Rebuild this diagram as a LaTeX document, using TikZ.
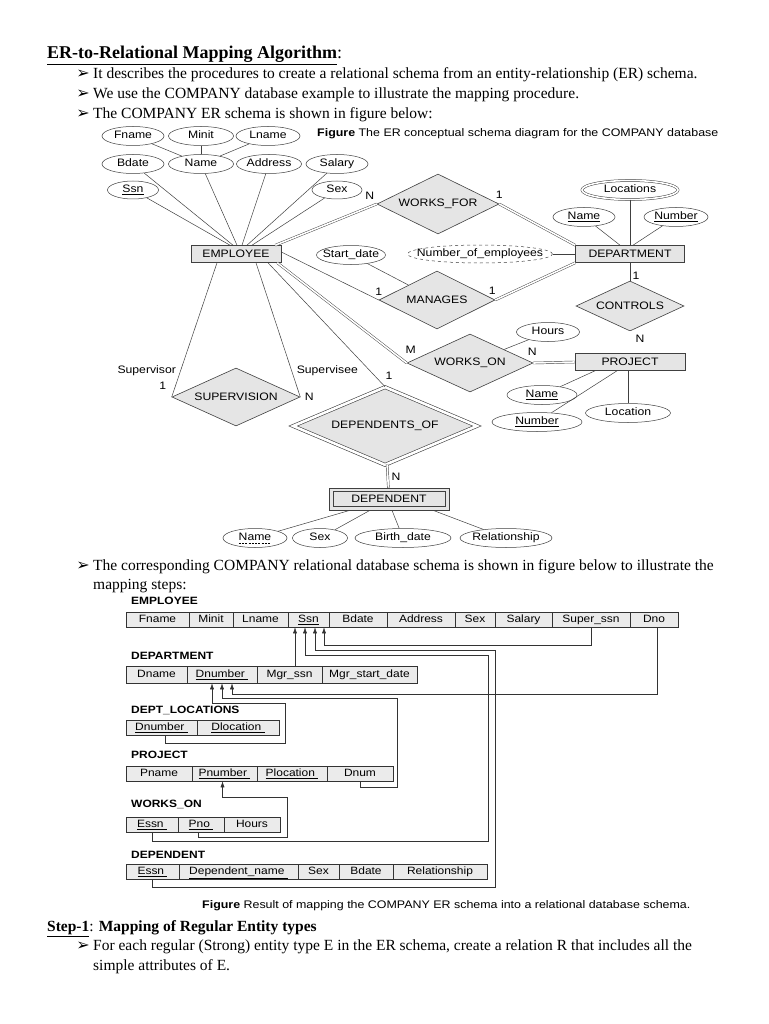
\documentclass[tikz,border=0pt]{standalone}
\usepackage{fontspec}
\setmainfont{Liberation Serif}
\newfontfamily\diagfont[FakeStretch=1.13]{Liberation Sans}
\newfontfamily\symfont{DejaVu Sans}
\usetikzlibrary{shapes.geometric,arrows.meta,calc}
\newcommand{\erfont}{\diagfont\fontsize{10.8}{12}\selectfont}
\newcommand{\relfont}{\diagfont\fontsize{10.6}{12}\selectfont}
\newcommand{\capfont}{\diagfont\fontsize{11}{12}\selectfont}
\newcommand{\bodyfont}{\rmfamily\fontsize{15.5}{17}\selectfont}
% dashed underline for a partial key
\newcommand{\dashul}[1]{\setbox0\hbox{#1}\copy0\kern-\wd0\smash{\lower2.4pt\hbox to \wd0{\xleaders\hbox{\vrule width 2pt height 0.45pt\kern1.2pt}\hfill}}}
\tikzset{%
	% text of a shape takes no width, the shape keeps its given size
	NoWidth/.style={execute at begin node={\hbox to 0pt\bgroup\hss},execute at end node={\hss\egroup}},
	% Style of an entity box
	Entity/.style={rectangle,draw=black!75,fill=black!10,line width=0.6pt,inner sep=0,minimum width=90,minimum height=17,font=\erfont},
	% Style of a relationship
	Relation/.style={diamond,draw=black!75,fill=black!10,line width=0.6pt,inner sep=0,font=\erfont,NoWidth},
	WeakRelation/.style={Relation,double,double distance=2.6pt},
	% Style of an attribute
	Attr/.style={ellipse,draw=black!75,line width=0.5pt,inner sep=0,minimum height=19,font=\erfont,
		text height=7.5,text depth=2,NoWidth},
	MultiAttr/.style={Attr,double,double distance=1.6pt},
	DerivedAttr/.style={Attr,dashed},
	% Style of the links
	Link/.style={draw=black!75,line width=0.5pt},
	Total/.style={draw=black!75,line width=0.45pt,double,double distance=1.6pt},
	Card/.style={font=\erfont,inner sep=0},
	% Style of the relational schema
	Cell/.style={rectangle,draw=black!80,fill=black!8,line width=0.5pt,inner sep=0,minimum height=15,font=\relfont,
		text height=7.5,text depth=2},
	RelName/.style={anchor=west,inner sep=0,font=\relfont\bfseries},
	FKey/.style={draw=black!80,line width=0.5pt,-{Latex[length=6pt,width=4pt]}},
	% Style of the page text
	BodyLine/.style={anchor=base west,inner sep=0,font=\bodyfont},
	Bullet/.style={anchor=base,inner sep=0,font=\symfont\fontsize{16}{17}\selectfont},
	Caption/.style={anchor=base west,inner sep=0,font=\capfont},
}

\begin{document}
\begin{tikzpicture}[x=1pt,y=-1pt]
\useasboundingbox[fill=white] (0,0) rectangle (768,1024);

%~~~~~~~~~~~~~~~~~~~~~~~~~~~~~~~~~~~~~~~~~~~~~~~~~~
% Page text
%~~~~~~~~~~~~~~~~~~~~~~~~~~~~~~~~~~~~~~~~~~~~~~~~~~
\node[BodyLine] (title) at (47,59) {\fontsize{18}{20}\selectfont\underline{\textbf{ER-to-Relational Mapping Algorithm}}:};
\node[Bullet] (b1) at (83,79) {➢};
\node[BodyLine] (t1) at (93,79) {It describes the procedures to create a relational schema from an entity-relationship (ER) schema.};
\node[Bullet] (b2) at (83,99) {➢};
\node[BodyLine] (t2) at (93,99) {We use the COMPANY database example to illustrate the mapping procedure.};
\node[Bullet] (b3) at (83,119) {➢};
\node[BodyLine] (t3) at (93,119) {The COMPANY ER schema is shown in figure below:};

\node[Bullet] (b4) at (83,570) {➢};
\node[BodyLine] (t4) at (93,570) {The corresponding COMPANY relational database schema is shown in figure below to illustrate the};
\node[BodyLine] (t5) at (93,589) {mapping steps:};

\node[BodyLine] (step) at (47,931) {\underline{\textbf{Step-1}}: \textbf{Mapping of Regular Entity types}};
\node[Bullet] (b5) at (83,950) {➢};
\node[BodyLine] (t6) at (93,950) {For each regular (Strong) entity type E in the ER schema, create a relation R that includes all the};
\node[BodyLine] (t7) at (93,970) {simple attributes of E.};

%~~~~~~~~~~~~~~~~~~~~~~~~~~~~~~~~~~~~~~~~~~~~~~~~~~
% ER schema: nodes
%~~~~~~~~~~~~~~~~~~~~~~~~~~~~~~~~~~~~~~~~~~~~~~~~~~
\node[Caption] (capER) at (317,137) {\textbf{Figure} The ER conceptual schema diagram for the COMPANY database};

\node[Attr, minimum width=62] (Fname) at (133,136) {Fname};
\node[Attr, minimum width=65] (Minit) at (201,136) {Minit};
\node[Attr, minimum width=64] (Lname) at (268,136) {Lname};
\node[Attr, minimum width=62] (Bdate) at (133,164) {Bdate};
\node[Attr, minimum width=65] (eName) at (201,164) {Name};
\node[Attr, minimum width=65] (Address) at (269,164) {Address};
\node[Attr, minimum width=62] (Salary) at (337,164) {Salary};
\node[Attr, minimum width=51, minimum height=18] (Ssn) at (133,190) {\underline{Ssn}};
\node[Attr, minimum width=50, minimum height=18] (Sex) at (337,190) {Sex};
\node[Entity] (employee) at (236,254) {EMPLOYEE};

\node[Relation, minimum width=122, minimum height=60] (worksFor) at (438,204) {WORKS\_FOR};
\node[Attr, minimum width=69] (startDate) at (351,255) {Start\_date};
\node[DerivedAttr, minimum width=145, minimum height=18] (numEmp) at (480,254) {Number\_of\_employees};
\node[Entity, minimum width=109] (department) at (630,254) {DEPARTMENT};
\node[MultiAttr, minimum width=96] (Locations) at (630,190) {Locations};
\node[Attr, minimum width=62] (dName) at (584,217) {\underline{Name}};
\node[Attr, minimum width=64] (dNumber) at (676,217) {\underline{Number}};

\node[Relation, minimum width=116, minimum height=58] (manages) at (437,300) {MANAGES};
\node[Relation, minimum width=108, minimum height=50] (controls) at (630,306) {CONTROLS};
\node[Entity, minimum width=110] (project) at (630,362) {PROJECT};
\node[Attr, minimum width=63] (Hours) at (548,332) {Hours};
\node[Relation, minimum width=126, minimum height=58] (worksOn) at (470,363) {WORKS\_ON};
\node[Attr, minimum width=70] (pName) at (542,395) {\underline{Name}};
\node[Attr, minimum width=90] (pNumber) at (537,422) {\underline{Number}};
\node[Attr, minimum width=85] (Location) at (628,413) {Location};

\node[Relation, minimum width=128, minimum height=58] (supervision) at (236,397) {SUPERVISION};
\node[WeakRelation, minimum width=184, minimum height=78] (dependentsOf) at (385,426) {DEPENDENTS\_OF};
% weak entity: box in a box
\node[Entity, minimum width=120, minimum height=22] (dependent) at (389,499) {};
\node[Entity, minimum width=112, minimum height=15] (dependentIn) at (dependent) {DEPENDENT};
\node[Attr, minimum width=64] (depName) at (255,538) {\dashul{Name}};
\node[Attr, minimum width=55] (depSex) at (320,538) {Sex};
\node[Attr, minimum width=96] (birthDate) at (403,538) {Birth\_date};
\node[Attr, minimum width=92] (relship) at (506,538) {Relationship};

%~~~~~~~~~~~~~~~~~~~~~~~~~~~~~~~~~~~~~~~~~~~~~~~~~~
% ER schema: links
%~~~~~~~~~~~~~~~~~~~~~~~~~~~~~~~~~~~~~~~~~~~~~~~~~~
% attributes of EMPLOYEE
\draw[Link] (Fname) -- (eName);
\draw[Link] (Minit) -- (eName);
\draw[Link] (Lname) -- (eName);
\draw[Link] (Ssn) -- ([xshift=-6]employee.north);
\draw[Link] (Bdate) -- ([xshift=-3]employee.north);
\draw[Link] (eName) -- ([xshift=1]employee.north);
\draw[Link] (Address) -- ([xshift=6]employee.north);
\draw[Link] (Salary) -- ([xshift=11]employee.north);
\draw[Link] (Sex) -- ([xshift=16]employee.north);

% attributes of DEPARTMENT
\draw[Link] (Locations) -- (department);
\draw[Link] (dName) -- ([xshift=-10]department.north);
\draw[Link] (dNumber) -- ([xshift=3]department.north);
\draw[Link] (numEmp) -- (department);

% attributes of PROJECT
\draw[Link] ([xshift=-35]project.south) -- (pName);
\draw[Link] ([xshift=-13]project.south) -- (pNumber);
\draw[Link] ([xshift=-2]project.south) -- (Location);

% attributes of DEPENDENT
\draw[Link] ([xshift=-39]dependent.south) -- (depName);
\draw[Link] ([xshift=-19]dependent.south) -- (depSex);
\draw[Link] ([xshift=3]dependent.south) -- (birthDate);
\draw[Link] ([xshift=44]dependent.south) -- (relship);

% WORKS_FOR
\draw[Total] ([xshift=-6]employee.north east) -- (worksFor.west);
\draw[Total] (worksFor.east) -- (department.north west);
\node[Card] at ($ (worksFor.west) + (-7,-8) $) {N};
\node[Card] at ($ (worksFor.east) + (0,-9) $) {1};

% MANAGES
\draw[Link] ([yshift=2]employee.east) -- (manages.west);
\draw[Total] (manages.east) -- (department.south west);
\draw[Link] (startDate) -- (manages);
\node[Card] at ($ (manages.west) + (0,-8) $) {1};
\node[Card] at ($ (manages.east) + (-3,-9) $) {1};

% CONTROLS
\draw[Link] (department) -- (controls);
\draw[Total] (controls) -- (project);
\node[Card] at ($ (controls.north) + (6,-5) $) {1};
\node[Card] at ($ (controls.south) + (10,7) $) {N};

% WORKS_ON
\draw[Total] ([xshift=-4]employee.south east) -- (worksOn.west);
\draw[Total] (worksOn.east) -- (project.west);
\draw[Link] (Hours) -- (worksOn);
\node[Card] at ($ (worksOn.west) + (4,-13) $) {M};
\node[Card] at ($ (worksOn.east) + (-1,-11) $) {N};

% SUPERVISION
\draw[Link] ([xshift=-19]employee.south) -- (supervision.west);
\draw[Link] ([xshift=20]employee.south) -- (supervision.east);
\node[Card] at ($ (supervision.west) + (-25,-26) $) {Supervisor};
\node[Card] at ($ (supervision.west) + (-9,-11) $) {1};
\node[Card] at ($ (supervision.east) + (27,-26) $) {Supervisee};
\node[Card] at ($ (supervision.east) + (9,0) $) {N};

% DEPENDENTS_OF
\draw[Link] ([xshift=32]employee.south) -- (dependentsOf.north);
\draw[Total] (dependentsOf) -- (dependent);
\node[Card] at ($ (dependentsOf.north) + (4,-11) $) {1};
\node[Card] at ($ (dependentsOf.south) + (11,11) $) {N};

%~~~~~~~~~~~~~~~~~~~~~~~~~~~~~~~~~~~~~~~~~~~~~~~~~~
% Relational schema
%~~~~~~~~~~~~~~~~~~~~~~~~~~~~~~~~~~~~~~~~~~~~~~~~~~
\node[RelName] (relEmp) at (131,601) {EMPLOYEE};
\foreach \nm/\l/\r/\txt in {eFname/126/189/Fname, eMinit/189/233/Minit, eLname/233/288/Lname,
	eSsn/288/329/\underline{Ssn}, eBdate/329/387/Bdate, eAddress/387/455/Address, eSex/455/495/Sex,
	eSalary/495/552/Salary, eSuper/552/630/Super\_ssn, eDno/630/678/Dno}
	\node[Cell, minimum width={\r-\l}] (\nm) at ({(\l+\r)/2},619.5) {\txt};

\node[RelName] (relDept) at (131,656) {DEPARTMENT};
\foreach \nm/\l/\r/\txt in {dDname/126/187/Dname, dDnum/187/257/\underline{Dnumber\ }, dMgr/257/322/Mgr\_ssn,
	dStart/322/417/Mgr\_start\_date}
	\node[Cell, minimum width={\r-\l}, minimum height=17] (\nm) at ({(\l+\r)/2},674.5) {\txt};

\node[RelName] (relLoc) at (131,710) {DEPT\_LOCATIONS};
\foreach \nm/\l/\r/\txt in {lDnum/126/197/\underline{Dnumber\ }, lDloc/197/279/\underline{Dlocation\ }}
	\node[Cell, minimum width={\r-\l}] (\nm) at ({(\l+\r)/2},727.5) {\txt};

\node[RelName] (relProj) at (131,755) {PROJECT};
\foreach \nm/\l/\r/\txt in {pPname/126/192/Pname, pPnum/192/257/\underline{Pnumber\ }, pPloc/257/327/\underline{Plocation\ },
	pDnum/327/393/Dnum}
	\node[Cell, minimum width={\r-\l}] (\nm) at ({(\l+\r)/2},773.5) {\txt};

\node[RelName] (relWork) at (131,804) {WORKS\_ON};
\foreach \nm/\l/\r/\txt in {wEssn/126/178/\underline{Essn\ }, wPno/178/224/\underline{Pno\ }, wHours/224/280/Hours}
	\node[Cell, minimum width={\r-\l}] (\nm) at ({(\l+\r)/2},824.5) {\txt};

\node[RelName] (relDep) at (131,855) {DEPENDENT};
\foreach \nm/\l/\r/\txt in {dpEssn/126/179/\underline{Essn\ }, dpName/179/298/\underline{Dependent\_name\ }, dpSex/298/339/Sex,
	dpBdate/339/393/Bdate, dpRel/393/487/Relationship}
	\node[Cell, minimum width={\r-\l}] (\nm) at ({(\l+\r)/2},871.5) {\txt};

% bends of the foreign key lines
\coordinate (bendWo) at (488,655);
\coordinate (bendDp) at (495,650);
\coordinate (bendPj) at (397,698);
\coordinate (bendLc) at (285,703);
\coordinate (bendPn) at (287,797);

% foreign keys to Ssn
\draw[FKey] ([xshift=5.5]dMgr.north) -- ([xshift=-13.5]eSsn.south);
\draw[FKey] (wEssn.south) -- ++(0,9) -| (bendWo) -| ([xshift=-3.5]eSsn.south);
\draw[FKey] (dpEssn.south) -- ++(0,8) -| (bendDp) -| ([xshift=6.5]eSsn.south);
\draw[FKey] (eSuper.south) -- ++(0,18) -| ([xshift=15.5]eSsn.south);
% foreign keys to Dnumber
\draw[FKey] ([xshift=4]lDnum.south) -- ++(0,8) -| (bendLc) -| ([xshift=-10]dDnum.south);
\draw[FKey] (pDnum.south) -- ++(0,6) -| (bendPj) -| (dDnum.south);
\draw[FKey] ([xshift=3]eDno.south) -- ++(0,67) -| ([xshift=10]dDnum.south);
% foreign key to Pnumber
\draw[FKey] ([xshift=-3]wPno.south) -- ++(0,5) -| (bendPn) -| ([xshift=-2]pPnum.south);

\node[Caption] (capRel) at (202,908) {\textbf{Figure} Result of mapping the COMPANY ER schema into a relational database schema.};

\end{tikzpicture}
\end{document}
